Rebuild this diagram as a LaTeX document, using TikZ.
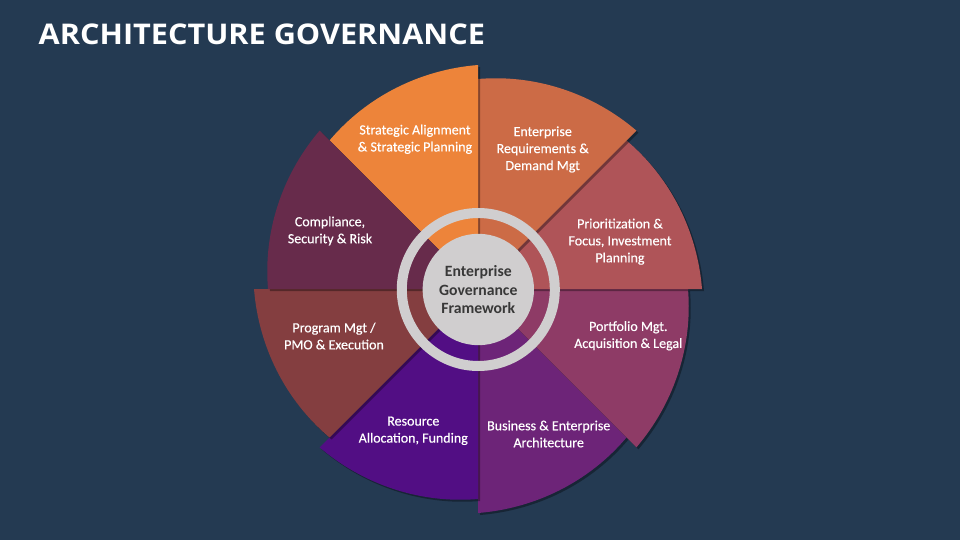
\documentclass[tikz,border=0pt]{standalone}
\usepackage{fontspec}
\usetikzlibrary{calc}
\setmainfont{Carlito}
\newfontfamily\labelfont[FakeBold=0.35]{Carlito}
\newfontfamily\titlefont[FakeStretch=1.075]{Open Sans}
\definecolor{bg}{HTML}{243A52}
\definecolor{cStrat}{HTML}{ED843A}
\definecolor{cEntr}{HTML}{CC6B46}
\definecolor{cPrio}{HTML}{AF5458}
\definecolor{cPort}{HTML}{8E3B66}
\definecolor{cBus}{HTML}{6D2478}
\definecolor{cRes}{HTML}{520E84}
\definecolor{cProg}{HTML}{843E40}
\definecolor{cComp}{HTML}{672B4B}
\definecolor{ringgray}{HTML}{D0CECF}
\definecolor{centertext}{HTML}{383838}
\begin{document}
\begin{tikzpicture}[x=1pt,y=-1pt,
  label/.style={text=white,align=center,inner sep=0pt,font=\labelfont\fontsize{14}{17}\selectfont},
  centerlabel/.style={text=centertext,align=center,inner sep=0pt,font=\bfseries\fontsize{15.7}{18.5}\selectfont},
  titlestyle/.style={text=white,anchor=base west,inner sep=0pt,font=\titlefont\bfseries\fontsize{28.5}{34}\selectfont}]
\fill[bg] (0,0) rectangle (960,540);
\useasboundingbox (0,0) rectangle (960,540);
\coordinate (C) at (478,289);
\coordinate (CS) at (480,291);
% sectors: start angle (ccw edge), colour; radius grows clockwise
\foreach \s/\col in {-45/cBus,0/cPort,45/cPrio,90/cEntr,135/cStrat,-90/cRes,-135/cProg,180/cComp}{
  \fill[black,opacity=0.35] (CS) -- plot[domain=0:45,samples=40]
    ({480+(210+14*\x/45)*cos(\s-\x)},{291-(210+14*\x/45)*sin(\s-\x)}) -- cycle;
  \fill[\col] (C) -- plot[domain=0:45,samples=40]
    ({478+(210+14*\x/45)*cos(\s-\x)},{289-(210+14*\x/45)*sin(\s-\x)}) -- cycle;
}
% centre ring and disk
\draw[ringgray,line width=10pt] (478.3,289.5) circle[radius=76.5];
\node[circle,fill=ringgray,minimum size=111.4pt,inner sep=0pt] (hub) at (478.3,289.5) {};
\node[centerlabel] (hubtext) at (478.3,289.8) {Enterprise\\Governance\\Framework};
% labels
\node[label] (strat) at (415,139.3) {Strategic Alignment\\\& Strategic Planning};
\node[label] (entr) at (542.7,149.5) {Enterprise\\Requirements \&\\Demand Mgt};
\node[label] (prio) at (620,241.7) {Prioritization \&\\Focus, Investment\\Planning};
\node[label] (port) at (628.3,335.8) {Portfolio Mgt.\\Acquisition \& Legal};
\node[label] (bus) at (548.7,434) {Business \& Enterprise\\Architecture};
\node[label] (res) at (413.3,430.8) {Resource\\Allocation, Funding};
\node[label] (prog) at (334,336) {Program Mgt /\\PMO \& Execution};
\node[label] (comp) at (330,231) {Compliance,\\Security \& Risk};
% title
\node[titlestyle] (title) at (38.5,45) {ARCHITECTURE GOVERNANCE};
\end{tikzpicture}
\end{document}
